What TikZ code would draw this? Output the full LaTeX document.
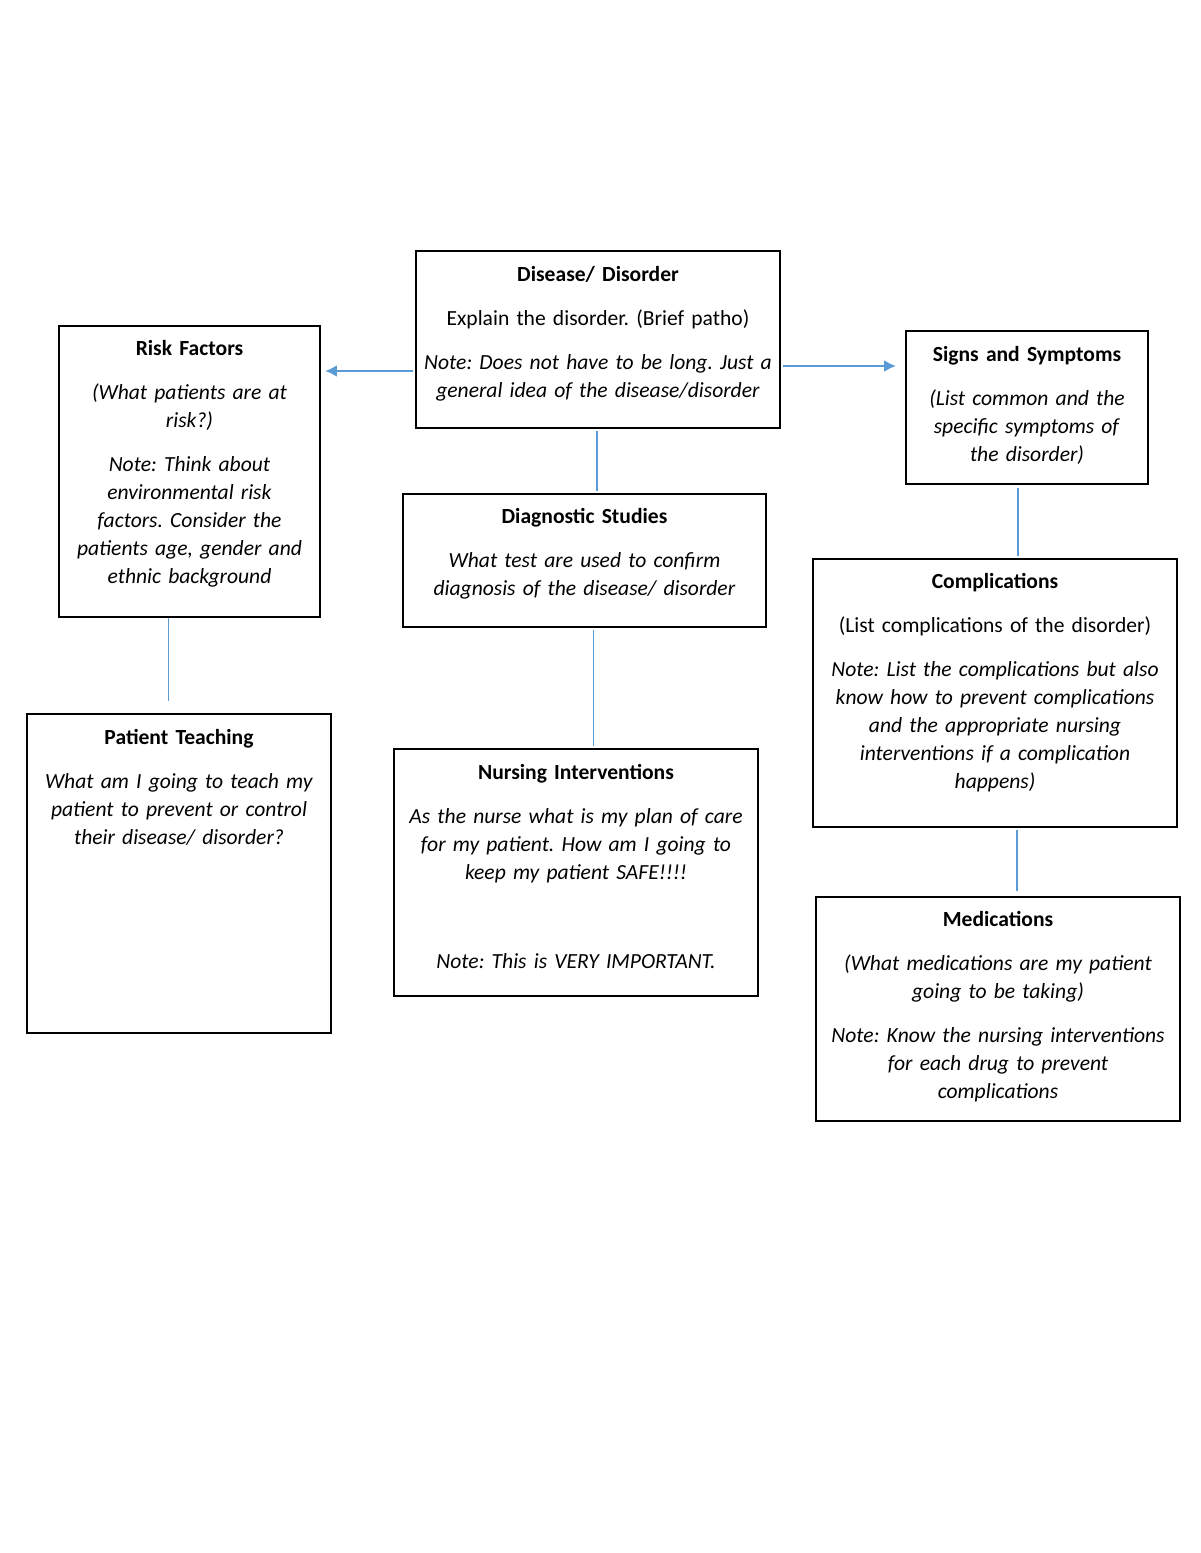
\documentclass[tikz,border=0pt]{standalone}
\usepackage{fontspec}
\setmainfont{Carlito}
\frenchspacing
\usetikzlibrary{fit,calc,arrows.meta}
\definecolor{linkblue}{RGB}{91,155,213}
\tikzset{
  box/.style={draw, line width=1.2pt, inner sep=0pt},
  txt/.style={anchor=base, align=center, inner sep=0pt,
    font=\fontsize{11}{14.28}\selectfont},
  link/.style={draw=linkblue, line width=0.8pt},
  tolink/.style={link, line width=1pt, -{Latex[length=6pt,width=6pt]}}
}
\begin{document}
\begin{tikzpicture}[x=0.51pt, y=-0.51pt]
        \useasboundingbox (0, 0) rectangle (1200, 1553);
        % boxes
        \node[box, fit={(416, 251) (780, 428)}] (dis) {};
        \node[box, fit={(59, 326) (320, 617)}] (risk) {};
        \node[box, fit={(906, 331) (1148, 484)}] (signs) {};
        \node[box, fit={(403, 494) (766, 627)}] (diag) {};
        \node[box, fit={(813, 559) (1177, 827)}] (comp) {};
        \node[box, fit={(27, 714) (331, 1033)}] (teach) {};
        \node[box, fit={(394, 749) (758, 996)}] (nurse) {};
        \node[box, fit={(816, 897) (1180, 1121)}] (meds) {};
        % texts
        \node[txt, text width=190pt] (disT) at ($(dis.north)+(0, 32)$)
            {\textbf{Disease/ Disorder}\\[8pt]
             Explain the disorder. (Brief patho)\\[8pt]
             \textit{Note: Does not have to be long. Just a}\\
             \textit{general idea of the disease/disorder}};
        \node[txt, text width=135pt] (riskT) at ($(risk.north)+(0, 31)$)
            {\textbf{Risk Factors}\\[8pt]
             \textit{(What patients are at}\\ \textit{risk?)}\\[8pt]
             \textit{Note: Think about}\\ \textit{environmental risk}\\
             \textit{factors. Consider the}\\ \textit{patients age, gender and}\\
             \textit{ethnic background}};
        \node[txt, text width=125pt] (signsT) at ($(signs.north)+(0, 32)$)
            {\textbf{Signs and Symptoms}\\[8pt]
             \textit{(List common and the}\\ \textit{specific symptoms of}\\
             \textit{the disorder)}};
        \node[txt, text width=185pt] (diagT) at ($(diag.north)+(0, 31)$)
            {\textbf{Diagnostic Studies}\\[8pt]
             \textit{What test are used to confirm}\\
             \textit{diagnosis of the disease/ disorder}};
        \node[txt, text width=185pt] (compT) at ($(comp.north)+(0, 31)$)
            {\textbf{Complications}\\[8pt]
             (List complications of the disorder)\\[8pt]
             \textit{Note: List the complications but also}\\
             \textit{know how to prevent complications}\\
             \textit{and the appropriate nursing}\\
             \textit{interventions if a complication}\\ \textit{happens)}};
        \node[txt, text width=155pt] (teachT) at ($(teach.north)+(0, 32)$)
            {\textbf{Patient Teaching}\\[8pt]
             \textit{What am I going to teach my}\\
             \textit{patient to prevent or control}\\
             \textit{their disease/ disorder?}};
        \node[txt, text width=185pt] (nurseT) at ($(nurse.north)+(0, 32)$)
            {\textbf{Nursing Interventions}\\[8pt]
             \textit{As the nurse what is my plan of care}\\
             \textit{for my patient. How am I going to}\\
             \textit{keep my patient SAFE!!!!}\\[31pt]
             \textit{Note: This is VERY IMPORTANT.}};
        \node[txt, text width=185pt] (medsT) at ($(meds.north)+(0, 31)$)
            {\textbf{Medications}\\[8pt]
             \textit{(What medications are my patient}\\
             \textit{going to be taking)}\\[8pt]
             \textit{Note: Know the nursing interventions}\\
             \textit{for each drug to prevent}\\ \textit{complications}};
        % connectors
        \coordinate (disL) at ($(dis.west)+(0, 31.5)$);
        \coordinate (disR) at ($(dis.east)+(0, 26.5)$);
        \coordinate (disB) at ($(dis.south)+(-1, 0)$);
        \coordinate (diagB) at ($(diag.south)+(9, 0)$);
        \coordinate (signsB) at ($(signs.south)+(-9, 0)$);
        \coordinate (compB) at ($(comp.south)+(22, 0)$);
        \coordinate (riskB) at ($(risk.south)+(-21, 0)$);
        \draw[tolink, shorten <=1pt, shorten >=2pt] (disL) -- (disL -| risk.east);
        \draw[tolink, shorten <=1pt, shorten >=4.5pt] (disR) -- (disR -| signs.west);
        \draw[link, shorten <=1pt, shorten >=1pt] (disB) -- (disB |- diag.north);
        \draw[link, shorten <=1pt, shorten >=1pt] (diagB) -- (diagB |- nurse.north);
        \draw[link, shorten <=1.5pt, shorten >=1pt] (signsB) -- (signsB |- comp.north);
        \draw[link, shorten <=1pt, shorten >=2.5pt] (compB) -- (compB |- meds.north);
        \draw[link, shorten >=6pt] (riskB) -- (riskB |- teach.north);
    \end{tikzpicture}
\end{document}
